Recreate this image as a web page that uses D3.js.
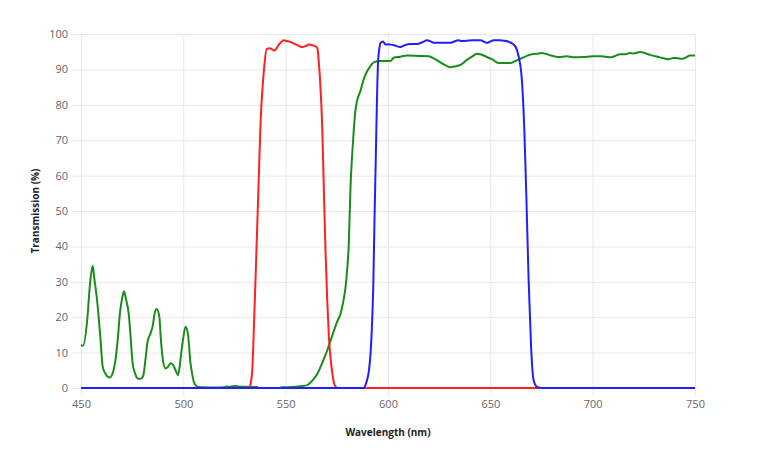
<!DOCTYPE html>
<html>
<head>
<meta charset="utf-8">
<script src="https://cdn.jsdelivr.net/npm/d3@7"></script>
<style>
  body { margin: 0; background: #fff; }
  text { font-family: "Open Sans", "Noto Sans", sans-serif; }
</style>
</head>
<body>
<svg id="chart"></svg>
<script>
// Data (wavelength in nm, transmission in %)
const greenNm = [450, 451, 453, 454.5, 455.7, 456.5, 458, 459.5, 460.6, 462, 463, 464, 465, 466.8, 468, 469, 470, 471, 472, 473.3, 474.3, 475.2, 476.5, 478, 479.5, 480.4, 481.5, 482.5, 484, 485, 486.2, 487, 488.3, 489, 490, 491.3, 492.5, 493.8, 495, 496.2, 497.4, 498.2, 499, 500.2, 501.1, 502.3, 503.5, 504.3, 505.2, 506, 507.2, 510, 515, 520, 521, 523, 525.5, 527, 530, 533, 536, 537, 547, 548, 553, 557.3, 560.6, 562, 563.8, 565.5, 567, 568.5, 570.3, 572, 573.6, 575, 576.8, 578, 579.3, 580, 580.8, 581.7, 582.5, 583.3, 584, 585, 586.6, 588, 589.8, 591.5, 593, 596.3, 601.2, 602.8, 606, 609.3, 615, 619.9, 622, 625.6, 628, 630.5, 633, 635.4, 638.6, 641, 643.5, 645.5, 647.6, 651, 654, 659.8, 662, 664.6, 667, 670.3, 672.5, 675.2, 677, 679.3, 683.3, 687.4, 691, 695.5, 700, 703.7, 706, 708.5, 711, 713.4, 716, 718.3, 720, 723.2, 725, 728, 732.9, 735, 737, 739.4, 741, 743.5, 745, 747.6, 750];
const greenT = [12.2, 11.9, 19, 30, 34.5, 31, 24, 14, 6, 4, 3.2, 3, 3.5, 7.8, 14, 21, 25, 27.3, 25, 21, 14, 7, 4, 2.6, 2.7, 3.5, 8, 13, 15.5, 17.4, 21.6, 22.3, 20, 14, 8, 5.5, 6, 7, 6.5, 5, 3.6, 6, 10, 15, 17.3, 15, 7, 4, 1.6, 0.8, 0.3, 0.2, 0.15, 0.2, 0.4, 0.35, 0.6, 0.4, 0.35, 0.3, 0.3, 0, 0, 0.2, 0.25, 0.5, 0.8, 1.5, 2.6, 4, 5.9, 8, 10.6, 13.5, 16.2, 18.5, 21, 24, 28.7, 33, 40, 57, 66, 73, 78, 81.4, 84, 87, 89.5, 91, 92, 92.4, 92.4, 93.3, 93.6, 93.9, 93.8, 93.7, 93.2, 92, 91.2, 90.6, 90.9, 91.3, 92.7, 93.6, 94.4, 94.2, 93.7, 92.8, 91.8, 91.8, 92.3, 93, 93.6, 94.3, 94.4, 94.6, 94.4, 94, 93.5, 93.7, 93.4, 93.5, 93.7, 93.7, 93.6, 93.4, 93.8, 94.3, 94.3, 94.6, 94.5, 94.9, 94.7, 94.1, 93.4, 93.1, 92.9, 93.2, 93.2, 93, 93.2, 93.9, 93.9];

const redNm = [450, 532, 533, 533.7, 534.6, 535.4, 536.2, 537, 537.8, 538.6, 539.4, 540.7, 542.3, 543.5, 544.6, 545.6, 546.7, 548, 549.2, 550.5, 551.6, 553, 554.1, 556, 558.1, 559.8, 561.4, 562.7, 563.8, 565.5, 566.2, 566.8, 567.9, 568.7, 569.5, 570.3, 571.1, 572, 572.8, 573.6, 574.4, 575.5, 750];
const redT = [0, 0, 1.5, 5.2, 19.3, 33, 47.5, 62, 75.8, 84, 89.9, 95.8, 96, 95.6, 95.3, 96, 97, 97.8, 98.2, 98, 97.9, 97.6, 97.3, 96.8, 96.3, 96.6, 97, 96.9, 96.7, 96, 92, 87.1, 73, 55, 38.1, 25, 14.6, 8, 4.2, 1.5, 0.4, 0, 0];

const blueNm = [450, 588.2, 589, 589.8, 590.7, 591.5, 592.2, 592.8, 593.4, 594, 594.4, 594.8, 595.2, 595.8, 596.3, 597.5, 598.8, 600, 601.2, 603, 606.1, 608, 611, 614.2, 616.5, 619.1, 620.5, 622.3, 626, 630.5, 632, 634.5, 636, 638.6, 642, 645.1, 648.4, 650, 651.6, 654.9, 656.5, 659.8, 662.2, 663.8, 665.4, 666.6, 667.6, 668.7, 669.9, 671.1, 672.8, 675.2, 750];
const blueT = [0, 0, 0.8, 2.3, 5, 10, 18, 28.7, 47.5, 64, 75.8, 86, 92.7, 96, 97.4, 97.9, 97, 97.1, 97, 96.8, 96.3, 96.8, 97.2, 97.2, 97.6, 98.2, 98, 97.5, 97.5, 97.5, 97.8, 98.2, 98, 98.1, 98.2, 98.2, 97.5, 97.9, 98.2, 98.2, 98.1, 97.6, 96.5, 93.7, 87.1, 73, 54.1, 30.6, 11.8, 2.3, 0.3, 0, 0];

const xTicks = [450, 500, 550, 600, 650, 700, 750];
const yTicks = [0, 10, 20, 30, 40, 50, 60, 70, 80, 90, 100];

// Size and margins
const width = 768;
const height = 450;
const margin = { top: 34, right: 73, bottom: 62, left: 81 };

const svg = d3.select("#chart")
  .attr("width", width)
  .attr("height", height);

const x = d3.scaleLinear().domain([450, 750]).range([margin.left, width - margin.right]);
const y = d3.scaleLinear().domain([0, 100]).range([height - margin.bottom, margin.top]);

// Grid + tick labels
const yAxis = svg.append("g")
  .attr("transform", `translate(${margin.left},0)`)
  .call(d3.axisLeft(y).tickValues(yTicks)
    .tickSize(-(width - margin.left - margin.right))
    .tickPadding(13));
yAxis.select(".domain").remove();
yAxis.selectAll(".tick line").attr("stroke", "#e8e8e8").attr("x1", -9);
yAxis.selectAll(".tick text").attr("fill", "#666").style("font-size", "11px");

const xAxis = svg.append("g")
  .attr("transform", `translate(0,${height - margin.bottom})`)
  .call(d3.axisBottom(x).tickValues(xTicks)
    .tickSize(-(height - margin.top - margin.bottom))
    .tickPadding(12));
xAxis.select(".domain").remove();
xAxis.selectAll(".tick line").attr("stroke", "#e8e8e8").attr("y1", 8);
xAxis.selectAll(".tick text").attr("fill", "#666").style("font-size", "11px");

// Axis titles
svg.append("text")
  .attr("x", (margin.left + width - margin.right) / 2)
  .attr("y", 436)
  .attr("text-anchor", "middle")
  .style("font-size", "10px")
  .style("font-weight", "bold")
  .attr("fill", "#222")
  .text("Wavelength (nm)");

svg.append("text")
  .attr("transform", `translate(39,${(margin.top + height - margin.bottom) / 2}) rotate(-90)`)
  .attr("text-anchor", "middle")
  .style("font-size", "10px")
  .style("font-weight", "bold")
  .attr("fill", "#222")
  .text("Transmission (%)");

// Curves
const line = d3.line()
  .x((d) => x(d[0]))
  .y((d) => y(d[1]))
  .curve(d3.curveMonotoneX);

const series = [
  { nm: greenNm, t: greenT, color: "#1a8c1a" },
  { nm: redNm, t: redT, color: "#ff2020" },
  { nm: blueNm, t: blueT, color: "#2020ff" }
];

series.forEach((s) => {
  svg.append("path")
    .datum(d3.zip(s.nm, s.t))
    .attr("d", line)
    .attr("fill", "none")
    .attr("stroke", s.color)
    .attr("stroke-width", 2)
    .attr("stroke-linejoin", "round");
});
</script>
</body>
</html>
